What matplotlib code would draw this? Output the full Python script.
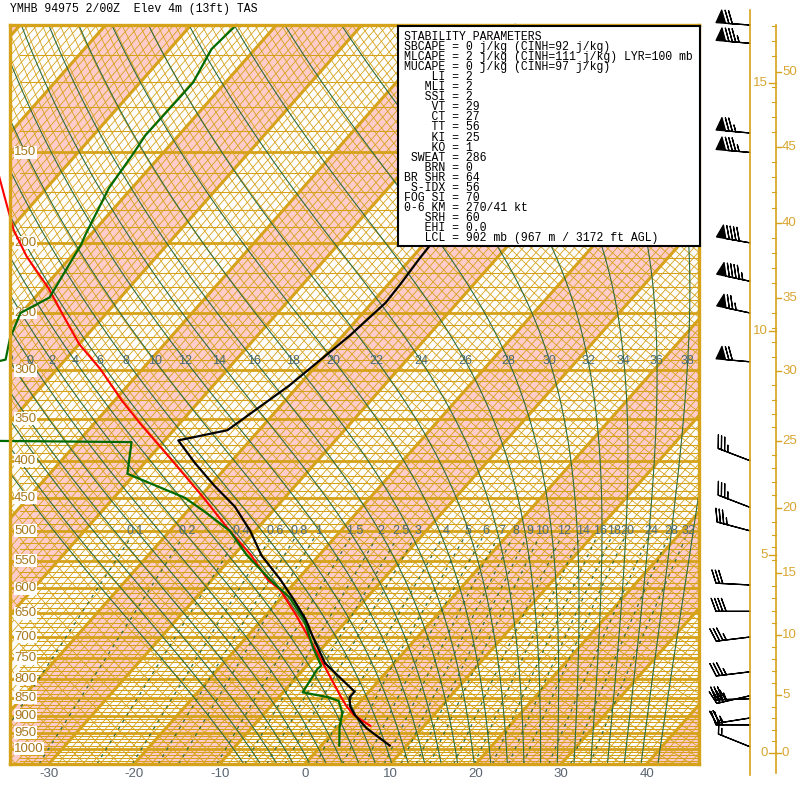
import numpy as np
import matplotlib
matplotlib.use("Agg")
import matplotlib.pyplot as plt
from matplotlib.collections import LineCollection
from matplotlib.ticker import NullLocator

# sounding (hPa, degC)
temp_p = [990, 937, 899, 874, 849, 834, 762, 703, 663, 622, 584, 541, 500, 463,
          433, 403, 375, 363, 315, 269, 242, 228, 211, 200, 170, 150, 125, 100]
temp_t = [8.0, 3.5, 0.8, -0.7, -1.7, -1.7, -8.1, -12.1, -14.9, -18.4, -22.0, -26.7,
          -30.6, -34.9, -39.5, -44.1, -48.4, -43.7, -41.1, -39.2, -38.4, -38.6,
          -39.0, -39.2, -42.0, -45.0, -48.0, -52.0]

dwpt_p = [990, 933, 893, 859, 849, 836, 776, 768, 724, 663, 618, 584, 540, 500,
          470, 450, 417, 377, 372, 290, 271, 250, 238, 201, 195, 168, 151, 142,
          124, 120, 108, 100]
dwpt_t = [2.1, 0.2, -0.9, -2.6, -4.2, -7.7, -8.4, -8.3, -11.2, -15.1, -19.1, -23.2,
          -28.5, -33.0, -38.0, -41.7, -50.9, -53.7, -110.0, -77.0, -78.7, -80.1,
          -78.3, -80.1, -80.6, -82.7, -83.4, -83.9, -83.8, -83.8, -85.1, -84.7]

parcel_p = [930, 898, 874, 849, 770, 719, 650, 603, 584, 540, 500, 450, 400, 356,
            330, 299, 276, 256, 231, 209, 192, 174, 150]
parcel_t = [3.7, 0.6, -1.1, -2.7, -7.8, -11.4, -16.8, -21.0, -23.5, -28.0, -33.0,
            -39.5, -47.0, -54.5, -59.2, -64.9, -70.0, -74.0, -79.4, -85.2, -89.5,
            -93.7, -100.0]

# winds (hPa, direction deg, speed kt)
wind_p = [100, 106, 141, 150, 200, 226, 250, 292, 400, 464, 500, 594, 646, 701,
          783, 845, 853, 907, 927, 994]
wind_dir = [274, 275, 275, 275, 280, 282, 282, 275, 291, 291, 285, 273, 270, 263,
            263, 257, 268, 261, 270, 292]
wind_spd = [70, 85, 75, 85, 90, 95, 75, 70, 35, 35, 35, 30, 40, 35, 35, 40, 35,
            25, 25, 15]

mix_ratios = [0.1, 0.2, 0.4, 0.6, 0.8, 1, 1.5, 2, 2.5, 3, 4, 5, 6, 7, 8, 9, 10,
              12, 14, 16, 18, 20, 24, 28, 32]
mix_labels = ["0.1", "0.2", "0.4", "0.6", "0.8", "1", "1.5", "2", "2.5", "3", "4",
              "5", "6", "7", "8", "9", "10", "12", "14", "16", "18", "20", "24",
              "28", "32"]
theta_w = np.arange(-10, 41, 2)
isobar_labels = list(range(150, 1001, 50))
temp_ticks = list(range(-30, 41, 10))

stability = [
    "STABILITY PARAMETERS",
    "SBCAPE = 0 j/kg (CINH=92 j/kg)",
    "MLCAPE = 2 j/kg (CINH=111 j/kg) LYR=100 mb",
    "MUCAPE = 0 j/kg (CINH=97 j/kg)",
    "    LI = 2",
    "   MLI = 2",
    "   SSI = 2",
    "    VT = 29",
    "    CT = 27",
    "    TT = 56",
    "    KI = 25",
    "    KO = 1",
    " SWEAT = 286",
    "   BRN = 0",
    "BR SHR = 64",
    " S-IDX = 56",
    "FOG SI = 70",
    "0-6 KM = 270/41 kt",
    "   SRH = 60",
    "   EHI = 0.0",
    "   LCL = 902 mb (967 m / 3172 ft AGL)",
]

ORANGE = "#d6a21a"
PINK = "#ffcccc"
GREEN_BG = "#2f6b3c"
LABEL_TEAL = "#4a6c78"

K = 32.6
P0 = 1050.0
PTOP = 100.0


def skew(t, p):
    return np.asarray(t, float) + K * np.log(P0 / np.asarray(p, float))


def dtdp(tk, p):
    tc = tk - 273.15
    es = 6.112 * np.exp(17.67 * tc / (tc + 243.5))
    rs = 0.622 * es / (p - es)
    num = 287.04 * tk + 2.501e6 * rs
    den = 1005.7 + (2.501e6 ** 2) * rs * 0.622 / (287.04 * tk ** 2)
    return num / (den * p)


def integrate(t0, plevs):
    T = t0 + 273.15
    out = [T.copy()]
    for p1, p2 in zip(plevs[:-1], plevs[1:]):
        h = p2 - p1
        k1 = dtdp(T, p1)
        k2 = dtdp(T + h / 2 * k1, p1 + h / 2)
        k3 = dtdp(T + h / 2 * k2, p1 + h / 2)
        k4 = dtdp(T + h * k3, p2)
        T = T + h / 6 * (k1 + 2 * k2 + 2 * k3 + k4)
        out.append(T.copy())
    return np.array(out) - 273.15


def mix_temp(w, p):
    e = w * p / (622.0 + w)
    L = np.log(e / 6.112)
    tw = 243.5 * L / (17.67 - L)
    ti = 272.62 * L / (22.46 - L)
    return np.where(tw < 0, ti, tw)


def std_p(z):
    z = np.asarray(z, float)
    return np.where(z <= 11000, 1013.25 * (1 - 2.25577e-5 * np.minimum(z, 11000)) ** 5.25588,
                    226.32 * np.exp(-(z - 11000) / 6341.6))


plt.rcParams["font.family"] = ["Liberation Sans", "DejaVu Sans"]
fig = plt.figure(figsize=(8, 8), dpi=100)
ax = fig.add_axes([10 / 800, 36 / 800, 689 / 800, 739 / 800])
ax.set_yscale("log")
ax.set_ylim(P0, PTOP)
ax.set_xlim(-34.54, 46.14)
ax.yaxis.set_major_locator(NullLocator())
ax.yaxis.set_minor_locator(NullLocator())

# pink bands between isotherms
for k in range(-7, 3):
    t0, t1 = 20 * k, 20 * k + 10
    xs = [skew(t0, P0), skew(t1, P0), skew(t1, PTOP), skew(t0, PTOP)]
    ax.fill(xs, [P0, P0, PTOP, PTOP], color=PINK, lw=0, zorder=0)

# thin isotherms
segs = [[(skew(t, P0), P0), (skew(t, PTOP), PTOP)] for t in range(-130, 51)]
ax.add_collection(LineCollection(segs, colors=ORANGE, linewidths=0.6, zorder=1))

# dry adiabats
pp = np.geomspace(P0, PTOP, 60)
segs = []
for th in range(200, 520, 2):
    t = th * (pp / 1000.0) ** 0.2857 - 273.15
    segs.append(np.column_stack([skew(t, pp), pp]))
ax.add_collection(LineCollection(segs, colors=ORANGE, linewidths=0.6, zorder=1))

# isobars
for p in range(100, 1051, 10):
    if p % 50 == 0:
        ax.axhline(p, color=ORANGE, lw=2.0, zorder=1.5)
    else:
        ax.axhline(p, xmin=0.015, color=ORANGE, lw=0.75, zorder=1.5)

# thick isotherms
segs = [[(skew(t, P0), P0), (skew(t, PTOP), PTOP)] for t in range(-130, 51, 10)]
ax.add_collection(LineCollection(segs, colors=ORANGE, linewidths=2.2, zorder=2))

# moist adiabats
p_up = np.linspace(1000, PTOP, 181)
p_dn = np.linspace(1000, P0, 11)
t_up = integrate(theta_w.astype(float), p_up)
t_dn = integrate(theta_w.astype(float), p_dn)
p_all = np.concatenate([p_dn[::-1], p_up[1:]])
t_all = np.vstack([t_dn[::-1], t_up[1:]])
segs = [np.column_stack([skew(t_all[:, i], p_all), p_all]) for i in range(len(theta_w))]
ax.add_collection(LineCollection(segs, colors=GREEN_BG, linewidths=0.8, zorder=2.5))
for i, tw in enumerate(theta_w):
    if tw < -2 or tw > 38:
        continue
    tl = np.interp(291, p_up[::-1], t_up[::-1, i])
    ax.text(skew(tl, 291), 291, str(tw), color=LABEL_TEAL, fontsize=9,
            ha="center", va="center", zorder=3, clip_on=True)

# mixing ratio lines
pm = np.geomspace(P0, 512, 30)
for w, lab in zip(mix_ratios, mix_labels):
    ax.plot(skew(mix_temp(w, pm), pm), pm, color=GREEN_BG, lw=0.9,
            ls=(0, (2.5, 4)), zorder=2.5)
    ax.text(skew(mix_temp(w, 500), 500), 500, lab, color=LABEL_TEAL, fontsize=9,
            ha="center", va="center", zorder=3)

# isobar labels
for p in isobar_labels:
    ax.text(0.006, p, str(p), transform=ax.get_yaxis_transform(), color="#a8781c",
            fontsize=9.5, ha="left", va="center", zorder=3,
            bbox=dict(facecolor="white", edgecolor="none", pad=0.3))

# sounding
ax.plot(skew(parcel_t, parcel_p), parcel_p, color="red", lw=1.5, zorder=4, clip_on=False)
ax.plot(skew(dwpt_t, dwpt_p), dwpt_p, color="#006a00", lw=1.6, zorder=4, clip_on=False)
ax.plot(skew(temp_t, temp_p), temp_p, color="black", lw=1.6, zorder=4.1, clip_on=False)

ax.set_xticks(temp_ticks)
ax.set_xticklabels([str(t) for t in temp_ticks])
ax.tick_params(axis="x", length=0, labelcolor="#5a6470", labelsize=9.5, pad=3)
for s in ax.spines.values():
    s.set_color(ORANGE)
    s.set_linewidth(2.4)
    s.set_zorder(5)

# right side: winds and height scale
hax = fig.add_axes([700 / 800, 36 / 800, 100 / 800, 739 / 800])
hax.set_yscale("log")
hax.set_ylim(P0, PTOP)
hax.set_xlim(700, 800)
hax.axis("off")
hax.plot([750, 750], [95.3, 1087], color=ORANGE, lw=1.2, clip_on=False)
hax.plot([776, 776], [100, 1080], color=ORANGE, lw=1.2, clip_on=False)

rad = np.deg2rad(wind_dir)
u = -np.array(wind_spd) * np.sin(rad)
v = -np.array(wind_spd) * np.cos(rad)
hax.barbs(np.full(len(wind_p), 750), wind_p, u, v, length=7.0, pivot="tip",
          color="black", linewidth=0.9, clip_on=False,
          sizes=dict(spacing=0.1, height=0.38, width=0.28))

for kft in range(0, 54):
    pz = std_p(kft * 304.8)
    if kft % 5 == 0:
        hax.plot([776, 781], [pz, pz], color=ORANGE, lw=1.0, clip_on=False)
        hax.text(782, pz, str(kft), color="#d8a630", fontsize=9.5, ha="left", va="center")
    else:
        hax.plot([772, 776], [pz, pz], color=ORANGE, lw=0.8, clip_on=False)
for km in range(0, 16, 5):
    pz = std_p(km * 1000.0)
    hax.plot([769, 776], [pz, pz], color=ORANGE, lw=1.0, clip_on=False)
    hax.text(768, pz, str(km), color="#d8a630", fontsize=9.5, ha="right", va="center")

# stability box
bax = fig.add_axes([398 / 800, 554 / 800, 302 / 800, 220 / 800], zorder=6)
bax.set_facecolor("white")
bax.set_xticks([])
bax.set_yticks([])
for s in bax.spines.values():
    s.set_color("black")
    s.set_linewidth(1.5)
for i, line in enumerate(stability):
    bax.text(0.02, 0.95 - i * 0.0457, line, transform=bax.transAxes,
             family=["Liberation Mono", "DejaVu Sans Mono"], fontsize=8.3,
             ha="left", va="center", clip_on=True)

fig.text(10 / 800, 1 - 9 / 800, "YMHB 94975 2/00Z  Elev 4m (13ft) TAS",
         family=["Liberation Mono", "DejaVu Sans Mono"], fontsize=8.3,
         ha="left", va="center")

fig.savefig("out.png", dpi=100)
